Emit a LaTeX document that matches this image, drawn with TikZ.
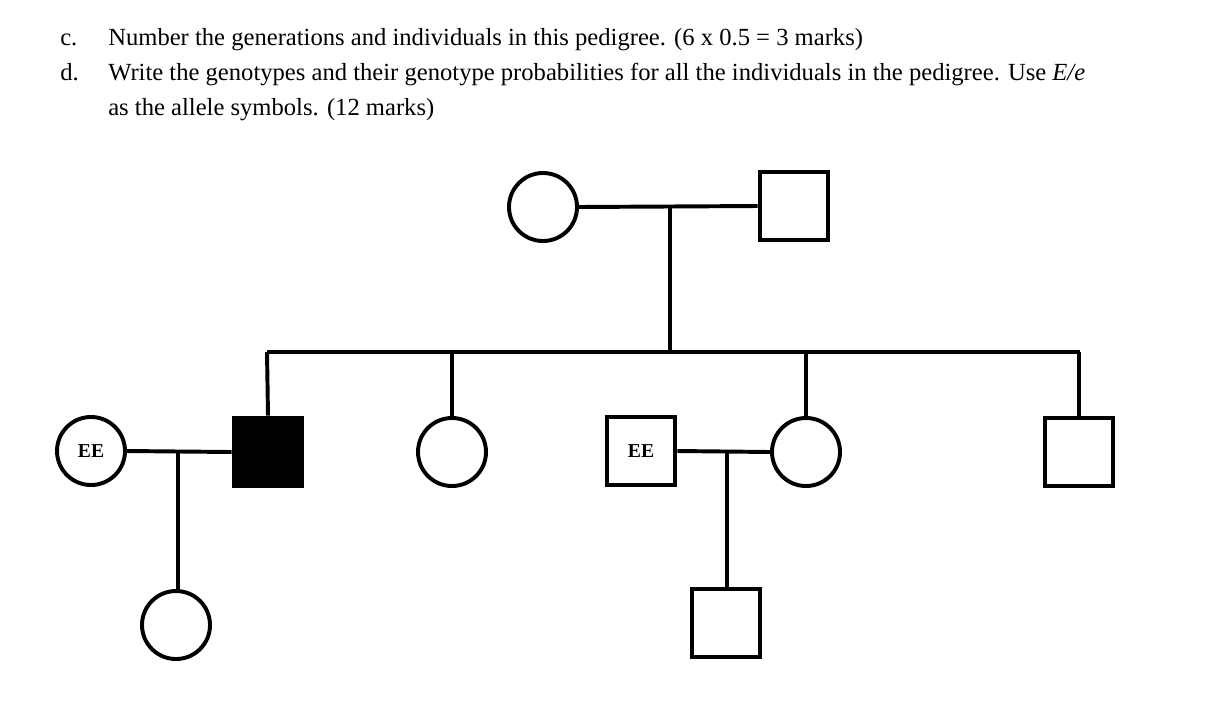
\documentclass[tikz,border=0pt]{standalone}
\usepackage{fontspec}
\setmainfont{Liberation Serif}
\begin{document}
\begin{tikzpicture}[x=0.025cm,y=-0.025cm,
  ln/.style={line width=2.8pt},
  fem/.style={circle,draw,line width=2.8pt,minimum size=68\pgflinewidth*0+1.7cm,inner sep=0pt,font=\fontsize{14}{16}\selectfont\bfseries},
  mal/.style={rectangle,draw,line width=2.8pt,minimum size=1.72cm,inner sep=0pt,font=\fontsize{14}{16}\selectfont\bfseries},
  txt/.style={anchor=base west,inner sep=0pt,font=\fontsize{17.5}{20}\selectfont}]
\useasboundingbox (0,0) rectangle (1220,712);
\node[txt] (c) at (60,45) {c.};
\node[txt] (ct) at (108,45) {Number the generations and individuals in this pedigree. (6 x 0.5 = 3 marks)};
\node[txt] (d) at (60,80) {d.};
\node[txt] (dt) at (108,80) {Write the genotypes and their genotype probabilities for all the individuals in the pedigree. Use \textit{E/e}};
\node[txt] (dt2) at (108,115) {as the allele symbols. (12 marks)};
\node[fem] (gm) at (543,207) {};
\node[mal] (gf) at (794,206) {};
\coordinate (m1) at (670,207);
\coordinate (s1) at (670,352);
\coordinate (sl) at (267,352);
\coordinate (sr) at (1080,352);
\node[mal,fill=black] (a) at (268,452) {};
\node[fem] (b) at (452,452) {};
\node[fem] (e) at (806,452) {};
\node[mal] (f) at (1079,452) {};
\node[fem] (ee1) at (91,451) {EE};
\node[mal] (ee2) at (641,451) {EE};
\node[fem] (k1) at (176,625) {};
\node[mal] (k2) at (726,623) {};
\draw[ln] (gm.east) -- (gf.west);
\draw[ln] (m1) -- (s1);
\draw[ln] (sl) -- (sr);
\draw[ln] (sl) -- (a.north);
\draw[ln] (b.north|-sl) -- (b.north);
\draw[ln] (e.north|-sl) -- (e.north);
\draw[ln] (f.north|-sl) -- (f.north);
\draw[ln] (ee1.east) -- (a.west);
\draw[ln] (178,451) -- (k1.north-|178,0);
\draw[ln] (ee2.east) -- (e.west);
\draw[ln] (727,451) -- (k2.north-|727,0);
\end{tikzpicture}
\end{document}
